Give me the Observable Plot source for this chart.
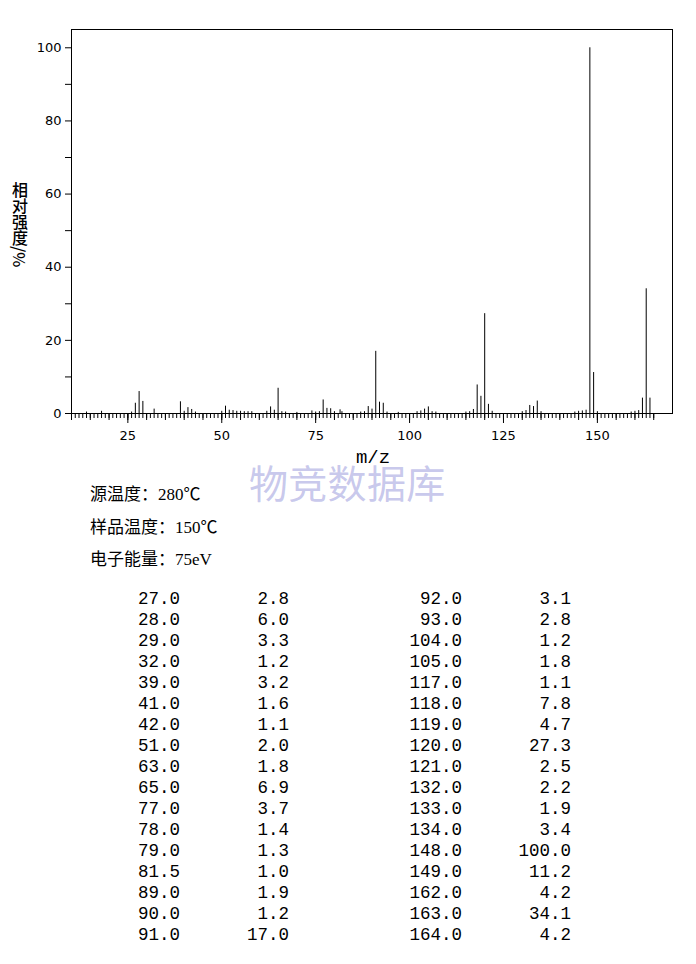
<!DOCTYPE html>
<html><head><meta charset="utf-8">
<script src="https://cdn.jsdelivr.net/npm/d3@7"></script>
<script src="https://cdn.jsdelivr.net/npm/@observablehq/plot@0.6"></script>
<style>
body{margin:0;background:#fff;}
#wrap{position:relative;width:696px;height:964px;overflow:hidden;background:#fff}
#chart{position:absolute;left:0;top:0;z-index:1}
.abs{position:absolute;white-space:nowrap}
</style></head><body><div id="wrap"><div id="chart"></div></div>
<script>
// Listed peaks (m/z, relative intensity %)
const peakMz = [27.0,28.0,29.0,32.0,39.0,41.0,42.0,51.0,63.0,65.0,77.0,78.0,79.0,81.5,89.0,90.0,91.0,
                92.0,93.0,104.0,105.0,117.0,118.0,119.0,120.0,121.0,132.0,133.0,134.0,148.0,149.0,162.0,163.0,164.0];
const peakInt = [2.8,6.0,3.3,1.2,3.2,1.6,1.1,2.0,1.8,6.9,3.7,1.4,1.3,1.0,1.9,1.2,17.0,
                 3.1,2.8,1.2,1.8,1.1,7.8,4.7,27.3,2.5,2.2,1.9,3.4,100.0,11.2,4.2,34.1,4.2];
// Small unlisted peaks (<1%)
const minorMz  = [14,18,26,40,43,50,52,53,54,55,56,57,58,62,64,66,67,70,74,75,76,80,82,87,88,94,97,102,103,106,107,115,116,122,130,131,135,144,145,146,147,150,159,160,161];
const minorInt = [0.4,0.6,0.4,0.6,0.4,0.6,0.9,0.8,0.6,0.6,0.5,0.5,0.5,0.6,0.9,0.5,0.4,0.3,0.7,0.4,0.5,0.5,0.5,0.4,0.5,0.4,0.3,0.5,0.7,0.5,0.4,0.4,0.5,0.6,0.5,0.8,0.5,0.4,0.6,0.7,0.9,0.5,0.4,0.6,0.8];

const xTickLabels = [25,50,75,100,125,150];
const yTickLabels = [0,20,40,60,80,100];
const yMinorTicks = [10,30,50,70,90];
const xMinorTicks = d3.range(10,166,1);
const xMidTicks = d3.range(10,166,5);

const yTitle = "相对强度/%";
const xTitle = "m/z";
const watermark = "物竞数据库";
const infoLines = ["源温度：280℃","样品温度：150℃","电子能量：75eV"];

const bars = [
  ...peakMz.map((m,i)=>({mz:m, int:peakInt[i]})),
  ...minorMz.map((m,i)=>({mz:m, int:minorInt[i]}))
];

const chart = Plot.plot({
  width: 696, height: 470,
  marginLeft: 71, marginRight: 24, marginTop: 29, marginBottom: 57,
  x: {domain:[10,170]},
  y: {domain:[0,105]},
  style: {fontFamily:"'DejaVu Sans', Verdana, sans-serif", fontSize:"13px", color:"black", background:"transparent"},
  marks: [
    Plot.ruleX(bars, {x:"mz", y1:0, y2:"int", stroke:"black", strokeWidth:1}),
    Plot.frame({stroke:"black"}),
    Plot.axisX(xMinorTicks, {tickSize:5, tickFormat:()=>"", label:null}),
    Plot.axisX(xMidTicks, {tickSize:7, tickFormat:()=>"", label:null}),
    Plot.axisX(xTickLabels, {tickSize:10, tickPadding:7, label:null}),
    Plot.axisY(yMinorTicks, {tickSize:6, tickFormat:()=>"", label:null}),
    Plot.axisY(yTickLabels, {tickSize:6, tickPadding:4, label:null}),
    Plot.text([xTitle], {frameAnchor:"bottom", dx:1, dy:49, fontSize:19, fontFamily:"'Liberation Mono', monospace", fill:"black"})
  ]
});
document.getElementById("chart").appendChild(chart);

const wrap = document.getElementById("wrap");
function add(text, css){
  const d = document.createElement("div");
  d.className = "abs";
  d.textContent = text;
  Object.assign(d.style, css);
  wrap.appendChild(d);
  return d;
}
// y title (vertical)
add(yTitle, {left:"11px", top:"182px", writingMode:"vertical-rl", fontFamily:"'Noto Sans CJK SC', sans-serif", fontSize:"16px", lineHeight:"17px", color:"#000", fontWeight:"500"});
// watermark (behind the chart)
add(watermark, {left:"249px", top:"457px", fontFamily:"'Noto Sans CJK SC', sans-serif", fontSize:"39px", lineHeight:"48px", letterSpacing:"0.3px", color:"rgba(170,170,225,0.65)", zIndex:"0"});
// info lines
infoLines.forEach((t,i)=>add(t, {left:"90px", top:(484+i*32.5)+"px", fontFamily:"'Liberation Serif','Noto Sans CJK SC', serif", fontSize:"17px", lineHeight:"22px", color:"#000"}));
// table
const n = 17;
const colRight = [180, 289, 462, 571];
const fmt = d3.format(".1f");
for (let i=0;i<n;i++){
  const rowVals = [fmt(peakMz[i]), fmt(peakInt[i]), fmt(peakMz[i+n]), fmt(peakInt[i+n])];
  rowVals.forEach((v,j)=>add(v, {left:(colRight[j]-120)+"px", width:"120px", textAlign:"right", top:(588+i*21)+"px", fontFamily:"'Liberation Mono', monospace", fontSize:"17.5px", lineHeight:"22px", color:"#000"}));
}
</script></body></html>
